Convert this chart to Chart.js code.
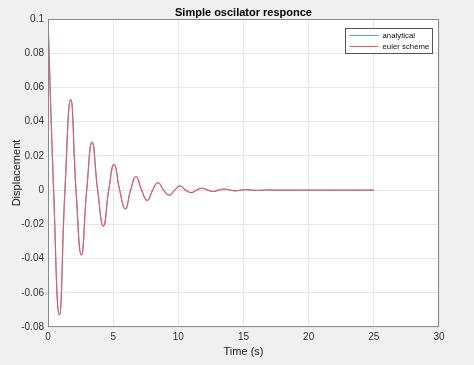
<!DOCTYPE html>
<html>
<head>
<meta charset="utf-8">
<script src="https://cdn.jsdelivr.net/npm/chart.js@4/dist/chart.umd.min.js"></script>
<style>
  html, body { margin: 0; padding: 0; background: #f0f0f0; }
  #wrap { width: 474px; height: 365px; position: relative; }
</style>
</head>
<body>
<div id="wrap"><canvas id="osc"></canvas></div>
<script>
// values: extrema and zero crossings of the response
const time = [0, 0.43, 0.87, 1.3, 1.74, 2.15, 2.56, 2.97, 3.38, 3.81, 4.25, 4.66, 5.07, 5.5, 5.93, 6.34, 6.75, 7.18, 7.62, 8.03, 8.44, 8.87, 9.31, 9.72, 10.13, 10.56, 11.0, 11.4, 11.8, 12.25, 12.7, 13.1, 13.5, 13.95, 14.4, 14.8, 15.2, 15.65, 16.1, 16.5, 16.9, 17.4, 18.0, 20.0, 22.5, 25.0];
const analytical = [0.1, 0, -0.073, 0, 0.053, 0, -0.038, 0, 0.028, 0, -0.021, 0, 0.015, 0, -0.011, 0, 0.008, 0, -0.006, 0, 0.0043, 0, -0.003, 0, 0.0024, 0, -0.0015, 0, 0.0011, 0, -0.0008, 0, 0.0006, 0, -0.0004, 0, 0.0003, 0, -0.0002, 0, 0.00015, 0, 0, 0, 0, 0];
const euler = [0.1, 0, -0.073, 0, 0.053, 0, -0.038, 0, 0.028, 0, -0.021, 0, 0.015, 0, -0.011, 0, 0.008, 0, -0.006, 0, 0.0043, 0, -0.003, 0, 0.0024, 0, -0.0015, 0, 0.0011, 0, -0.0008, 0, 0.0006, 0, -0.0004, 0, 0.0003, 0, -0.0002, 0, 0.00015, 0, 0, 0, 0, 0];
const seriesNames = ['analytical', 'euler scheme'];
const xTicks = [0, 5, 10, 15, 20, 25, 30];
const yTicks = [0.1, 0.08, 0.06, 0.04, 0.02, 0, -0.02, -0.04, -0.06, -0.08];

const font = 'Helvetica, "Liberation Sans", Arial, sans-serif';
const pts = (ys) => time.map((t, i) => ({ x: t, y: ys[i] }));

// title centred over the axes, MATLAB style
const axTitle = {
  id: 'axTitle',
  afterDraw(chart) {
    const { ctx, chartArea: a } = chart;
    ctx.save();
    ctx.fillStyle = '#000';
    ctx.font = 'bold 11px ' + font;
    ctx.textAlign = 'center';
    ctx.fillText('Simple oscilator responce', (a.left + a.right) / 2, 16);
    ctx.restore();
  }
};

const plotBg = {
  id: 'plotBg',
  beforeDraw(chart) {
    const { ctx, chartArea: a } = chart;
    ctx.save();
    ctx.fillStyle = '#fff';
    ctx.fillRect(a.left, a.top, a.right - a.left, a.bottom - a.top);
    ctx.restore();
  }
};

// box round the axes + legend inside the top right corner
const boxLegend = {
  id: 'boxLegend',
  afterDraw(chart) {
    const { ctx, chartArea: a } = chart;
    ctx.save();
    ctx.strokeStyle = '#8a8a8a';
    ctx.lineWidth = 1;
    ctx.strokeRect(a.left + 0.5, a.top + 0.5, a.right - a.left - 1, a.bottom - a.top - 1);
    const lx = 345.5, ly = 28.5, lw = 87, lh = 25;
    ctx.fillStyle = '#fff';
    ctx.fillRect(lx, ly, lw, lh);
    ctx.strokeStyle = '#555';
    ctx.strokeRect(lx, ly, lw, lh);
    ctx.font = '7.8px ' + font;
    ctx.textBaseline = 'middle';
    chart.data.datasets.forEach((ds, i) => {
      const y = ly + 7 + i * 11;
      ctx.strokeStyle = ds.borderColor;
      ctx.beginPath();
      ctx.moveTo(lx + 4, y);
      ctx.lineTo(lx + 33, y);
      ctx.stroke();
      ctx.fillStyle = '#111';
      ctx.fillText(ds.label, lx + 37, y);
    });
    ctx.restore();
  }
};

new Chart(document.getElementById('osc'), {
  type: 'line',
  data: {
    datasets: [
      { label: seriesNames[0], data: pts(analytical), borderColor: '#4f9fd6', borderWidth: 1, pointRadius: 0, tension: 0.5, order: 1 },
      { label: seriesNames[1], data: pts(euler), borderColor: '#e0606c', borderWidth: 1.2, pointRadius: 0, tension: 0.5, order: 0 }
    ]
  },
  options: {
    responsive: true,
    maintainAspectRatio: false,
    animation: false,
    layout: { padding: { top: 19, right: 35, left: 10, bottom: 6 } },
    plugins: { legend: { display: false }, title: { display: false }, tooltip: { enabled: false } },
    scales: {
      x: {
        type: 'linear', min: 0, max: 30,
        afterBuildTicks: (s) => { s.ticks = xTicks.map(v => ({ value: v })); },
        afterFit: (s) => { s.height = 32; },
        grid: { color: '#e6e6e6', drawTicks: false },
        border: { display: false },
        ticks: { color: '#333', font: { size: 10, family: font }, padding: 4, maxRotation: 0 },
        title: { display: true, text: 'Time (s)', color: '#222', font: { size: 11, family: font }, padding: { top: 0, bottom: 0 } }
      },
      y: {
        type: 'linear', min: -0.08, max: 0.1,
        afterBuildTicks: (s) => { s.ticks = yTicks.map(v => ({ value: v })); },
        afterFit: (s) => { s.width = 38; },
        grid: { color: '#e6e6e6', drawTicks: false },
        border: { display: false },
        ticks: { color: '#333', font: { size: 10, family: font }, padding: 4, callback: (v) => String(+v.toFixed(2)) },
        title: { display: true, text: 'Displacement', color: '#222', font: { size: 11, family: font }, padding: { top: 0, bottom: 2 } }
      }
    }
  },
  plugins: [plotBg, axTitle, boxLegend]
});
</script>
</body>
</html>
